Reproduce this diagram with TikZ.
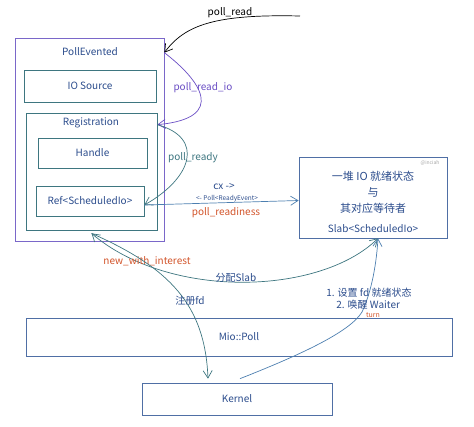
\documentclass[tikz,border=0pt]{standalone}
\usepackage{fontspec}
\setmainfont{Noto Sans CJK SC}
\usetikzlibrary{arrows.meta,positioning}
\definecolor{boxText}{HTML}{2B4C8C}
\definecolor{pollPurple}{HTML}{7A67C9}
\definecolor{ioPurple}{HTML}{6A4EC4}
\definecolor{regTeal}{HTML}{3E7680}
\definecolor{slabBlue}{HTML}{4F6FA5}
\definecolor{steelBlue}{HTML}{4D7FB0}
\definecolor{rustRed}{HTML}{D2542A}
\tikzset{%
    >={Straight Barb[length=2.6mm,width=3.2mm]},
    base/.style = {
        rectangle, draw, line width=0.7pt, text centered, inner sep=0pt,
        text=boxText, font=\fontsize{10}{12}\selectfont
    },
    outerBox/.style = {base, draw=pollPurple},
    tealBox/.style = {base, draw=regTeal},
    blueBox/.style = {base, draw=slabBlue},
    boxLabel/.style = {text=boxText, font=\fontsize{10}{12}\selectfont},
    edgeLabel/.style = {font=\fontsize{10}{12}\selectfont, inner sep=1pt},
    link/.style = {line width=0.7pt},
}

\begin{document}
\begin{tikzpicture}[x=1pt, y=-1pt, align=center]
    \useasboundingbox (0,0) rectangle (474,426);
        % Nodes position
        \node (pollEvented) [outerBox, minimum width=149pt, minimum height=203pt]
            at (89.5,139.5) {};
        \node (pollEventedLabel) [boxLabel] at (90,52) {PollEvented};
        \node (ioSource) [tealBox, minimum width=132pt, minimum height=32pt]
            at (90,86) {IO Source};
        \node (registration) [tealBox, minimum width=131pt, minimum height=117pt]
            at (91.5,171.5) {};
        \node (registrationLabel) [boxLabel] at (91,123) {Registration};
        \node (handle) [tealBox, minimum width=109pt, minimum height=30pt]
            at (92.5,153) {Handle};
        \node (ref) [tealBox, minimum width=108pt, minimum height=30pt]
            at (90,201) {Ref<ScheduledIo>};

        \node (slab) [blueBox, minimum width=148pt, minimum height=81pt]
            at (373,197.5) {};
        \node (slabText) [boxLabel, font=\fontsize{11}{16}\selectfont] at (373,192)
            {一堆 IO 就绪状态\\与\\其对应等待者};
        \node (slabType) [boxLabel] at (373,229) {Slab<ScheduledIo>};
        \node (watermark) [text=gray!70, font=\fontsize{5}{6}\selectfont]
            at (430,163) {@inciah};

        \node (mioPoll) [blueBox, minimum width=426pt, minimum height=38pt]
            at (239,337) {Mio::Poll};
        \node (kernel) [blueBox, minimum width=190pt, minimum height=32pt]
            at (237,399) {Kernel};

        \coordinate (readStart) at (300,16);
        \coordinate (turnBend) at (362,312);

        % Arrow specification
        \draw[->, link, black] (readStart)
            .. controls (215,14) and (185,25) .. ([yshift=-15pt]pollEvented.north east);
        \node (pollReadLabel) [edgeLabel] at (230,13) {poll\_read};

        \draw[->, link, ioPurple] ([yshift=-15pt]pollEvented.north east)
            .. controls (200,80) and (228,118) .. ([yshift=-12pt]registration.north east);
        \node (pollReadIoLabel) [edgeLabel, text=ioPurple] at (203,88) {poll\_read\_io};

        \draw[->, link, regTeal] ([yshift=-12pt]registration.north east)
            .. controls (205,138) and (192,178) .. ([yshift=-4pt]ref.east);
        \node (pollReadyLabel) [edgeLabel, text=regTeal] at (193,158) {poll\_ready};

        \draw[->, link, steelBlue] ([yshift=-4pt]ref.east) -- ([yshift=-3pt]slab.west);
        \node (cxLabel) [edgeLabel, text=boxText] at (224,187) {cx ->};
        \node (readyEventLabel) [edgeLabel, text=boxText, font=\fontsize{6.5}{7}\selectfont]
            at (227,199) {<- Poll<ReadyEvent>};
        \node (pollReadinessLabel) [edgeLabel, text=rustRed] at (226,213) {poll\_readiness};

        \draw[<->, link, regTeal] ([yshift=-3pt]registration.south)
            .. controls (170,300) and (320,295) .. ([xshift=5pt]slab.south);
        \node (newInterestLabel) [edgeLabel, text=rustRed] at (147,261) {new\_with\_interest};
        \node (allocLabel) [edgeLabel, text=boxText] at (236,278) {分配Slab};

        \draw[->, link, regTeal] ([yshift=-3pt]registration.south)
            .. controls (170,268) and (205,305) .. ([xshift=-29pt, yshift=4pt]kernel.north);
        \node (registerLabel) [edgeLabel, text=boxText] at (190,301) {注册fd};

        \draw[->, link, steelBlue] ([xshift=3pt, yshift=4pt]kernel.north)
            .. controls (300,355) and (350,332) .. (turnBend)
            .. controls (370,295) and (376,270) .. ([xshift=5pt]slab.south);
        \node (wakeLabel) [edgeLabel, text=boxText, align=left] at (369,299)
            {1. 设置 fd 就绪状态\\\hspace*{10pt}2. 唤醒 Waiter};
        \node (turnLabel) [edgeLabel, text=rustRed, font=\fontsize{7}{8}\selectfont]
            at (373,315) {turn};
    \end{tikzpicture}
\end{document}
